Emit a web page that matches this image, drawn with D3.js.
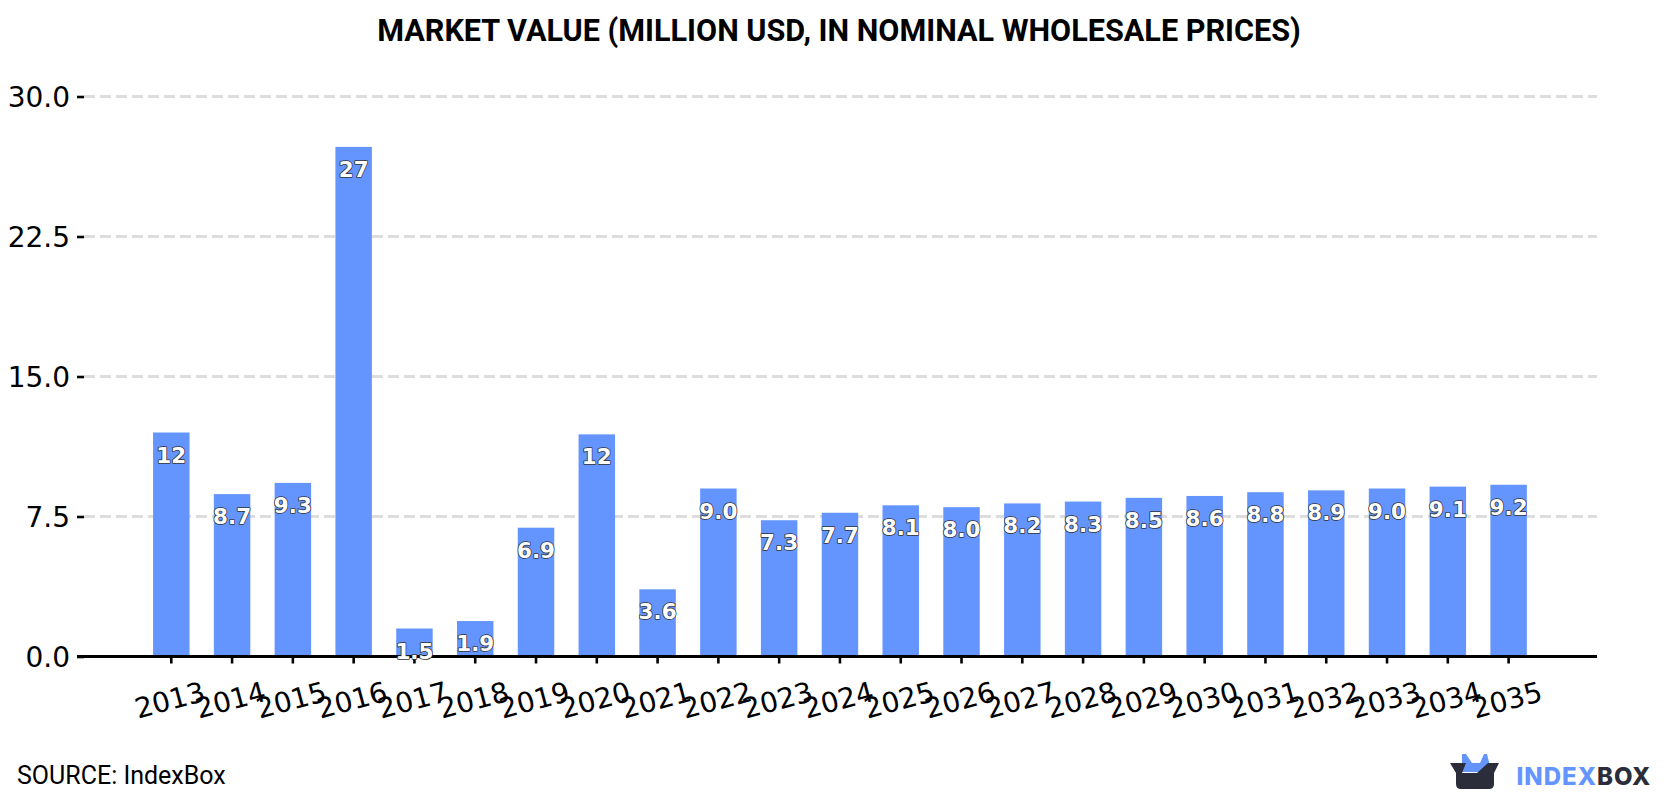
<!DOCTYPE html>
<html>
<head>
<meta charset="utf-8">
<script src="https://cdn.jsdelivr.net/npm/d3@7"></script>
<style>
html,body{margin:0;padding:0;background:#fff}
svg{display:block}
</style>
</head>
<body>
<svg id="chart" width="1680" height="800"></svg>
<script>
const years = d3.range(2013, 2036).map(String);
const marketValue = [12.0, 8.7, 9.3, 27.3, 1.5, 1.9, 6.9, 11.9, 3.6, 9.0, 7.3, 7.7, 8.1, 8.0, 8.2, 8.3, 8.5, 8.6, 8.8, 8.9, 9.0, 9.1, 9.2];
const yTicks = [0, 7.5, 15, 22.5, 30];
const titleText = "MARKET VALUE (MILLION USD, IN NOMINAL WHOLESALE PRICES)";
const sourceText = "SOURCE: IndexBox";

const svg = d3.select("#chart");
const mono = "'DejaVu Sans', sans-serif";

const y = d3.scaleLinear().domain([0, 30]).range([656.5, 96.5]);
const x = d3.scaleBand().domain(years).range([140.9, 1539]).paddingInner(0.4).paddingOuter(0.2);
const cx = d => x(d) + x.bandwidth() / 2;

svg.append("text").attr("x", 839).attr("y", 41).attr("text-anchor", "middle")
  .attr("font-family", "Roboto, sans-serif").attr("font-weight", 700).attr("font-size", 30.6)
  .attr("fill", "#000").text(titleText);

// Dashed guides sit beneath the bars
svg.append("g").selectAll("line").data(yTicks.slice(1)).join("line")
  .attr("x1", 84).attr("x2", 1597)
  .attr("y1", d => y(d)).attr("y2", d => y(d))
  .attr("stroke", "#dddddd").attr("stroke-width", 2.8).attr("stroke-dasharray", "11 5");

svg.append("g").selectAll("rect").data(years).join("rect")
  .attr("x", d => x(d)).attr("width", x.bandwidth())
  .attr("y", (d, i) => y(marketValue[i]))
  .attr("height", (d, i) => y(0) - y(marketValue[i]))
  .attr("fill", "#6495ff");

// Y axis
const yAxis = svg.append("g").attr("transform", "translate(84,0)")
  .call(d3.axisLeft(y).tickValues(yTicks).tickSize(7).tickPadding(7).tickFormat(d3.format(".1f")));
yAxis.select(".domain").remove();
yAxis.selectAll("line").attr("stroke", "#000").attr("stroke-width", 2.6);
yAxis.selectAll("text").attr("font-family", mono).attr("font-size", 28).attr("fill", "#000").attr("dy", "0.36em");

// X axis
const xAxis = svg.append("g").attr("transform", `translate(0,${y(0)})`)
  .call(d3.axisBottom(x).tickSize(7).tickPadding(0));
xAxis.select(".domain").remove();
xAxis.selectAll("line").attr("stroke", "#000").attr("stroke-width", 2.6);
xAxis.selectAll("text")
  .attr("font-family", mono).attr("font-size", 28).attr("fill", "#000")
  .attr("text-anchor", "middle").attr("dy", null).attr("y", null)
  .attr("transform", "translate(1,53) rotate(-15)");
svg.append("line").attr("x1", 77).attr("x2", 1597).attr("y1", y(0)).attr("y2", y(0))
  .attr("stroke", "#000").attr("stroke-width", 2.8);

// Value labels inside the bars: whole numbers from ten upward
const labelFormat = v => v >= 10 ? d3.format(".0f")(v) : d3.format(".1f")(v);
svg.append("g").selectAll("text").data(years).join("text")
  .attr("x", cx)
  .attr("y", (d, i) => y(marketValue[i]) + 30)
  .attr("text-anchor", "middle")
  .attr("font-family", mono).attr("font-weight", 700).attr("font-size", 21.5)
  .attr("fill", "#fff").attr("stroke", "#333").attr("stroke-width", 1.6)
  .attr("paint-order", "stroke").attr("stroke-linejoin", "round")
  .text((d, i) => labelFormat(marketValue[i]));

svg.append("text").attr("x", 17).attr("y", 784)
  .attr("font-family", "Roboto, sans-serif").attr("font-size", 25).attr("fill", "#000").text(sourceText);

// Brand mark and wordmark
const logo = svg.append("g");
logo.append("path").attr("fill", "#6495ff")
  .attr("d", "M1462 754 L1466 754 L1472 763 L1480 763 L1484 754 L1484 754 L1487 754 L1490 766 L1484 772 L1462 772 Z");
logo.append("path").attr("fill", "#2b2d3a")
  .attr("d", "M1450 763 L1466 763 L1462 773 L1477 773 L1488 763 L1499 763 L1494 773 L1494 784 Q1494 789 1489 789 L1461 789 Q1456 789 1456 784 L1456 773 Z");
logo.append("text").attr("x", 1516.5).attr("y", 784.5)
  .attr("font-family", "Inter, sans-serif").attr("font-weight", 800).attr("font-size", 24).attr("letter-spacing", 1)
  .call(t => {
    t.append("tspan").attr("fill", "#6495ff").text("INDEX");
    t.append("tspan").attr("fill", "#2b2d3a").text("BOX");
  });
</script>
</body>
</html>
